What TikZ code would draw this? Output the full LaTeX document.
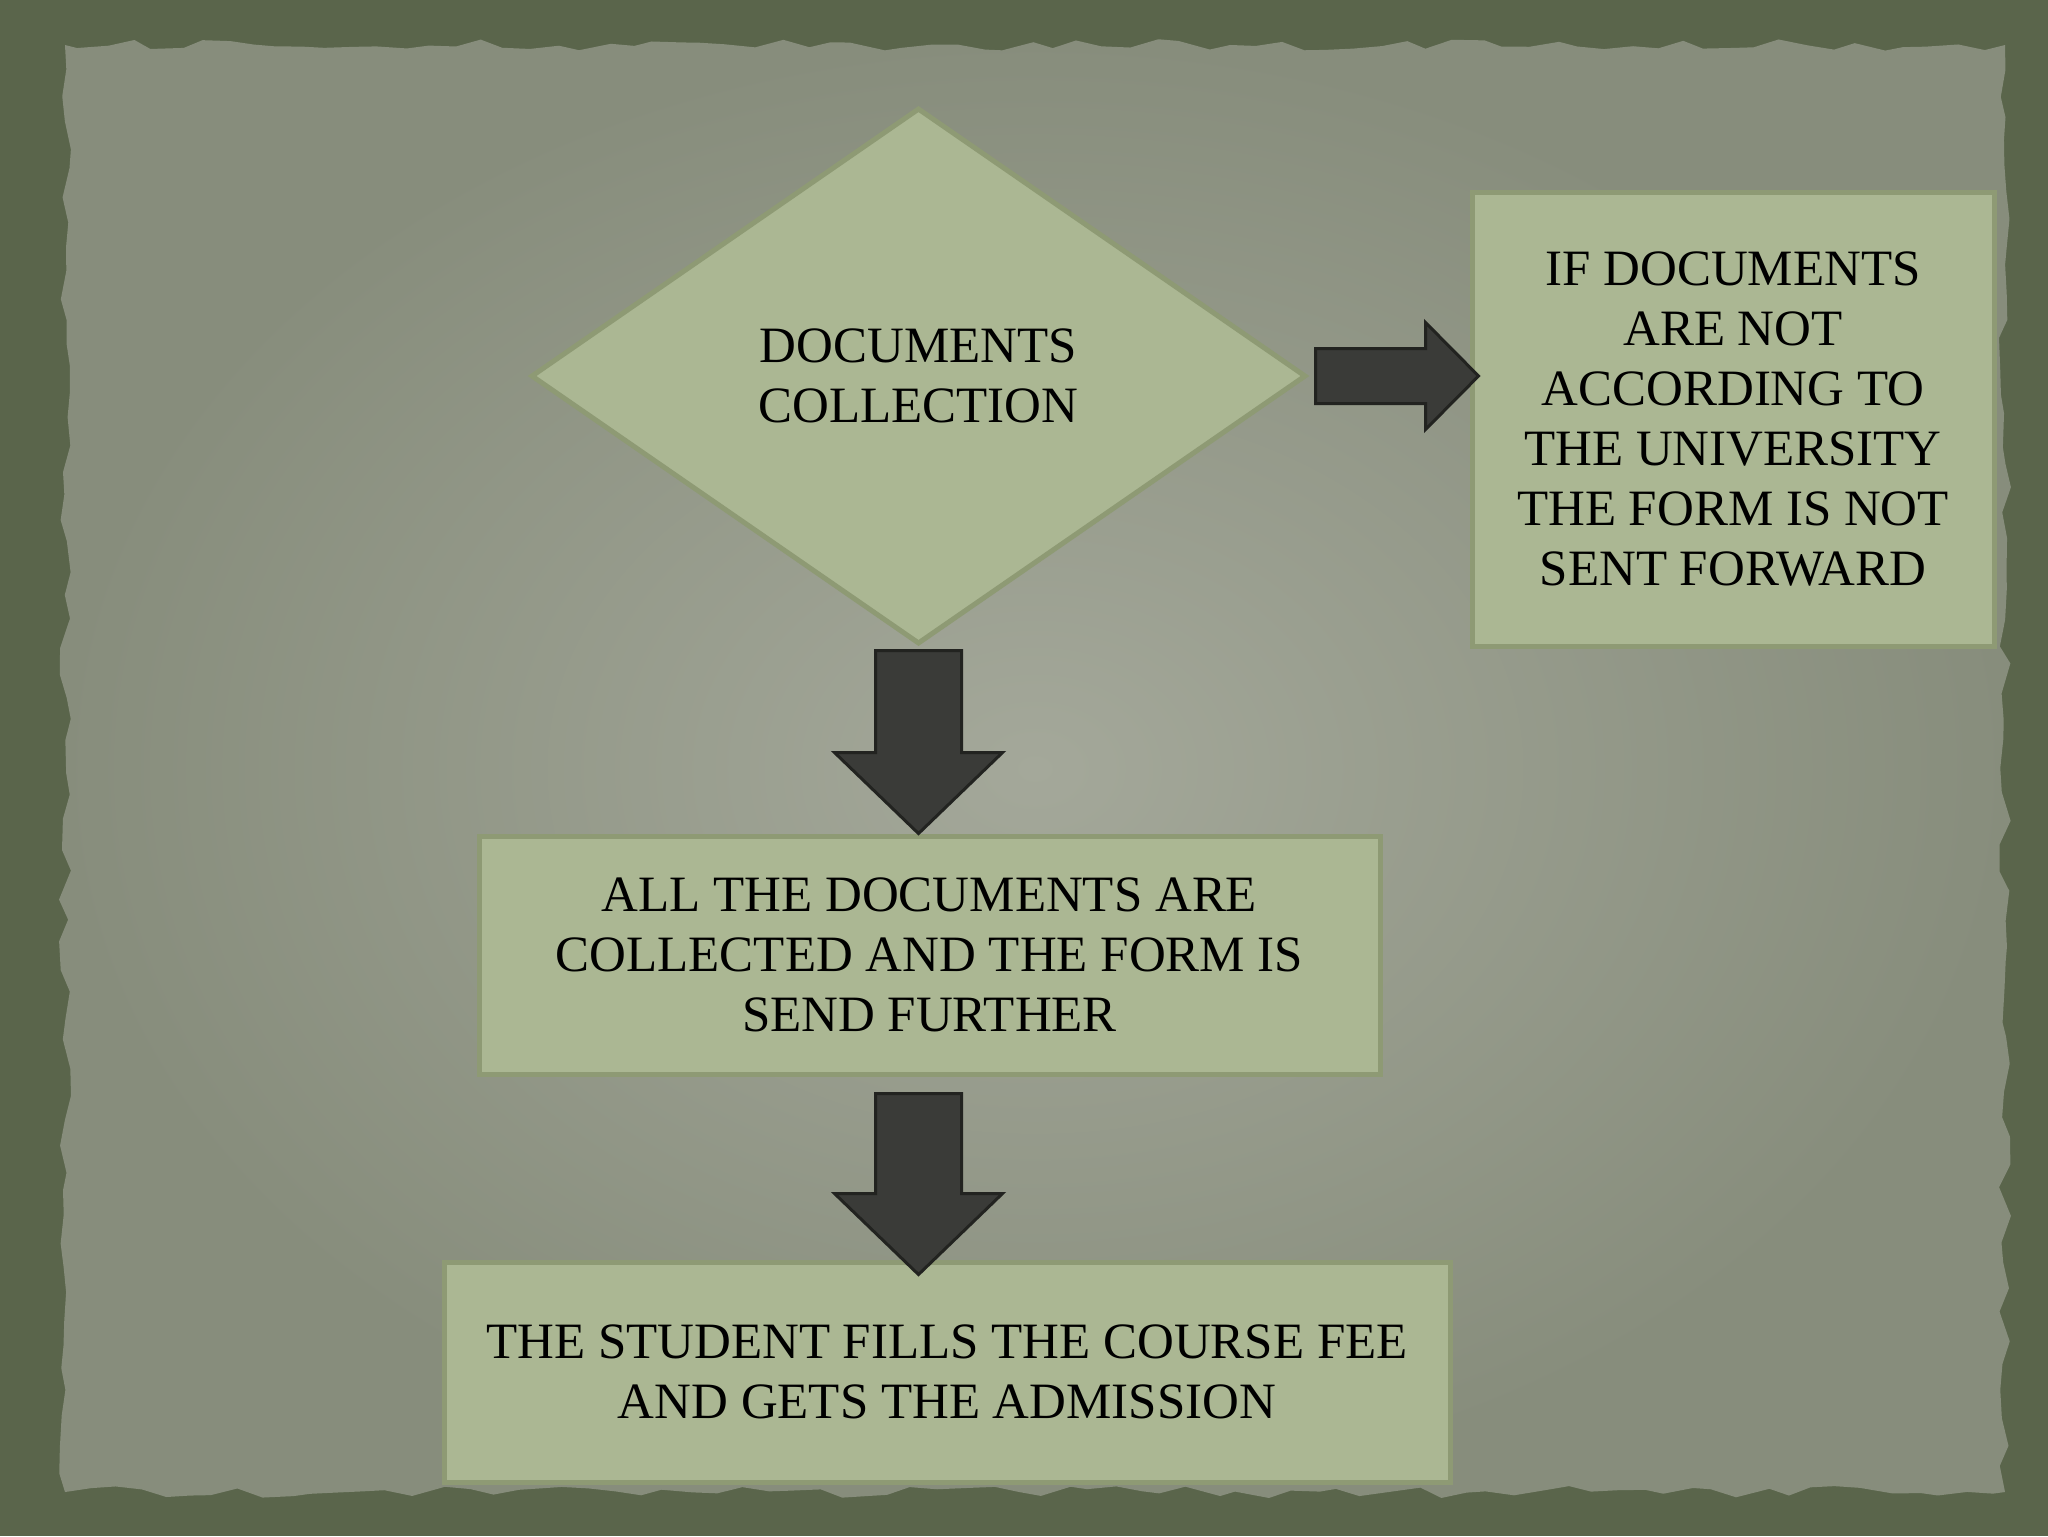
\documentclass[tikz,border=0pt]{standalone}
\usepackage{fontspec}
\setmainfont{Liberation Serif}
\usetikzlibrary{shapes.geometric,calc,decorations.pathmorphing}

\definecolor{framegreen}{HTML}{5A654B}
\definecolor{paperlight}{HTML}{A4A89A}
\definecolor{paperdark}{HTML}{878D7C}
\definecolor{boxgreen}{HTML}{ABB793}
\definecolor{boxedge}{HTML}{8E9A74}
\definecolor{arrowgray}{HTML}{3A3B38}
\definecolor{arrowedge}{HTML}{222320}

\begin{document}
\begin{tikzpicture}[x=0.1mm,y=-0.1mm,
		boxtext/.style={align=center,text=black,inner sep=0pt,
			font=\fontsize{14.5}{17.1}\selectfont},
		stepbox/.style={boxtext,draw=boxedge,line width=0.5mm,fill=boxgreen},
		decision/.style={boxtext,diamond,draw=boxedge,line width=0.5mm,fill=boxgreen,
			aspect=1.446,minimum width=77.5mm,minimum height=53.6mm},
		downarrow/.style={fill=arrowgray,draw=arrowedge,line width=0.3mm,
			to path={($(\tikztostart)+(-43,0)$) -- ($(\tikztotarget)+(-43,-81)$)
				-- ($(\tikztotarget)+(-84,-81)$) -- (\tikztotarget)
				-- ($(\tikztotarget)+(84,-81)$) -- ($(\tikztotarget)+(43,-81)$)
				-- ($(\tikztostart)+(43,0)$) -- cycle}},
		rightarrow/.style={fill=arrowgray,draw=arrowedge,line width=0.3mm,
			to path={($(\tikztostart)+(0,-27.5)$) -- ($(\tikztotarget)+(-53,-27.5)$)
				-- ($(\tikztotarget)+(-53,-53.5)$) -- (\tikztotarget)
				-- ($(\tikztotarget)+(-53,53.5)$) -- ($(\tikztotarget)+(-53,27.5)$)
				-- ($(\tikztostart)+(0,27.5)$) -- cycle}}]
	\useasboundingbox (0,0) rectangle (2048,1536);
	% frame and torn paper
	\fill[framegreen] (0,0) rectangle (2048,1536);
	\pgfmathsetseed{7}
	\shade[inner color=paperlight,outer color=paperdark,
		decorate,decoration={random steps,segment length=2.5mm,amplitude=0.6mm}]
		(65,45) rectangle (2005,1492);

	% steps
	\node[decision] (dc) at (918.5,376) {DOCUMENTS\\COLLECTION};
	\node[stepbox,minimum width=52.2mm,minimum height=45.4mm] (nosend) at (1733,419)
		{IF DOCUMENTS\\ARE NOT\\ACCORDING TO\\THE UNIVERSITY\\THE FORM IS NOT\\SENT FORWARD};
	\node[stepbox,minimum width=90.1mm,minimum height=23.8mm] (sent) at (929.5,955)
		{ALL THE DOCUMENTS ARE\\COLLECTED AND THE FORM IS\\SEND FURTHER};
	\node[stepbox,minimum width=100.6mm,minimum height=22mm] (admit) at (947,1372)
		{THE STUDENT FILLS THE COURSE FEE\\AND GETS THE ADMISSION};

	% arrows
	\draw[rightarrow] ($(dc.east)+(7,0)$) to ($(nosend.west |- dc.east)+(9,0)$);
	\draw[downarrow] ($(dc.south)+(0,4)$) to (dc.south |- sent.north);
	\draw[downarrow] ($(dc.south |- sent.south)+(0,17)$) to ($(dc.south |- admit.north)+(0,15)$);
\end{tikzpicture}
\end{document}
